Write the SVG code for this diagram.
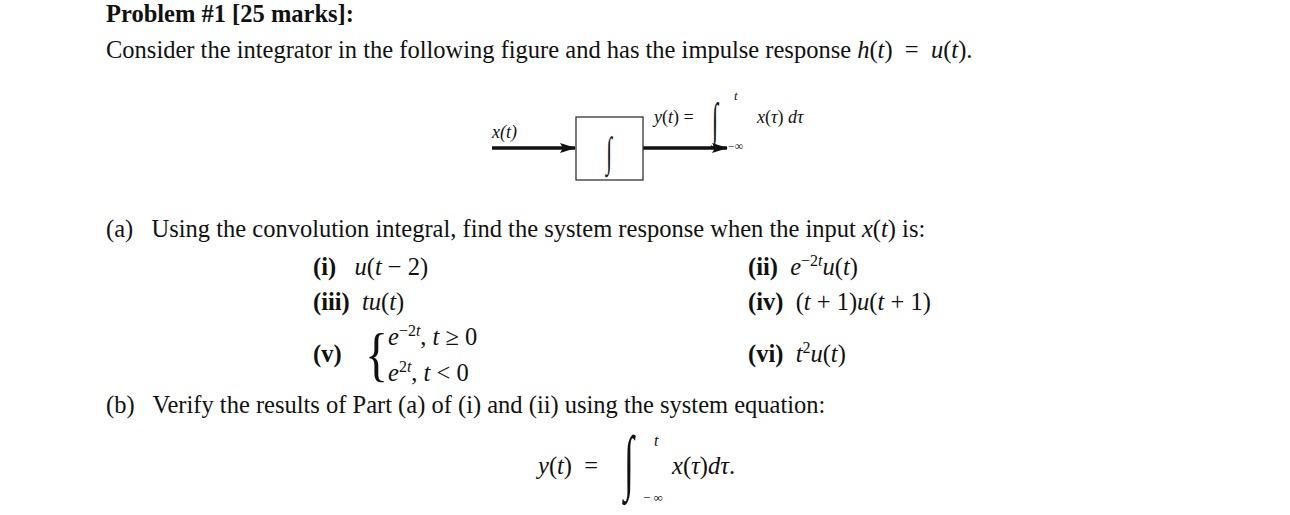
<svg xmlns="http://www.w3.org/2000/svg" width="1290" height="515" viewBox="0 0 1290 515" xml:space="preserve">
<style>
text{font-family:"Liberation Serif","Times New Roman",serif;fill:#111;white-space:pre}
.t{font-size:24.5px}
.b{font-weight:bold}
.i{font-style:italic}
.s{font-size:18px}
</style>
<defs><marker id="ah" markerWidth="16" markerHeight="10" refX="15" refY="5" orient="auto" markerUnits="userSpaceOnUse"><path d="M0,0 L16,5 L0,10 L3,5 Z" fill="#111"/></marker></defs>
<rect width="1290" height="515" fill="#fff"/>
<text x="106" y="22" class="t b" font-size="24">Problem #1 [25 marks]:</text>
<text x="106" y="58" class="t">Consider the integrator in the following figure and has the impulse response <tspan class="i">h</tspan>(<tspan class="i">t</tspan>)  =  <tspan class="i">u</tspan>(<tspan class="i">t</tspan>).</text>
<g id="connectors" stroke="#111" stroke-width="3.5" fill="none">
<line x1="492" y1="148" x2="575" y2="148" marker-end="url(#ah)"/>
<line x1="643" y1="148" x2="727" y2="148" marker-end="url(#ah)"/>
</g>
<g id="integrator"><rect x="576" y="117" width="67" height="63" fill="#fff" stroke="#333" stroke-width="1.3"/>
<text transform="translate(609,166) scale(0.8,1.6)" font-size="26" text-anchor="middle">∫</text></g>
<g id="input"><text x="492" y="138" class="s i">x(t)</text></g>
<g id="output"><text x="654" y="123" class="s"><tspan class="i">y</tspan>(<tspan class="i">t</tspan>) =</text>
<text transform="translate(712,136) scale(0.8,1.7)" font-size="28">∫</text>
<text x="734" y="100" class="i" font-size="13">t</text>
<text x="728" y="150" font-size="12">−∞</text>
<text x="757" y="123" class="s"><tspan class="i">x</tspan>(<tspan class="i">τ</tspan>) <tspan class="i">dτ</tspan></text></g>
<text x="106" y="237" class="t">(a)   Using the convolution integral, find the system response when the input <tspan class="i">x</tspan>(<tspan class="i">t</tspan>) is:</text>
<text x="313" y="275" class="t"><tspan class="b">(i)</tspan>   <tspan class="i">u</tspan>(<tspan class="i">t</tspan> − 2)</text>
<text x="748" y="275" class="t"><tspan class="b">(ii)</tspan>  <tspan class="i">e</tspan><tspan dy="-9" font-size="16">−2<tspan class="i">t</tspan></tspan><tspan dy="9" class="i">u</tspan>(<tspan class="i">t</tspan>)</text>
<text x="313" y="310" class="t"><tspan class="b">(iii)</tspan>  <tspan class="i">tu</tspan>(<tspan class="i">t</tspan>)</text>
<text x="748" y="310" class="t"><tspan class="b">(iv)</tspan>  (<tspan class="i">t</tspan> + 1)<tspan class="i">u</tspan>(<tspan class="i">t</tspan> + 1)</text>
<text x="313" y="362" class="t b">(v)</text>
<text transform="translate(365,374) scale(1,1.25)" font-size="48" font-weight="100">{</text>
<text x="388" y="345" class="t"><tspan class="i">e</tspan><tspan dy="-9" font-size="16">−2<tspan class="i">t</tspan></tspan><tspan dy="9">, </tspan><tspan class="i">t</tspan> ≥ 0</text>
<text x="388" y="381" class="t"><tspan class="i">e</tspan><tspan dy="-9" font-size="16">2<tspan class="i">t</tspan></tspan><tspan dy="9">, </tspan><tspan class="i">t</tspan> &lt; 0</text>
<text x="748" y="362" class="t"><tspan class="b">(vi)</tspan>  <tspan class="i">t</tspan><tspan dy="-9" font-size="16">2</tspan><tspan dy="9" class="i">u</tspan>(<tspan class="i">t</tspan>)</text>
<text x="106" y="413" class="t">(b)   Verify the results of Part (a) of (i) and (ii) using the system equation:</text>
<text x="538" y="474" class="t"><tspan class="i">y</tspan>(<tspan class="i">t</tspan>)  =</text>
<text transform="translate(624,486) scale(0.9,1.8)" font-size="40">∫</text>
<text x="654" y="446" class="i" font-size="16">t</text>
<text x="643" y="502" font-size="13">− ∞</text>
<text x="672" y="474" class="t"><tspan class="i">x</tspan>(<tspan class="i">τ</tspan>)<tspan class="i">dτ</tspan>.</text>
</svg>
